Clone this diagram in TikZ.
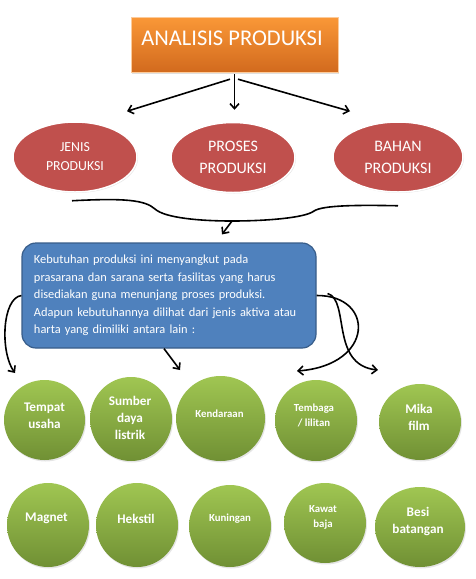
\documentclass[tikz,border=0pt]{standalone}
\usepackage{fontspec}
\setmainfont{Carlito}
\usetikzlibrary{arrows.meta,shapes.geometric,shadows}

\definecolor{orangeTop}{RGB}{250,152,55}
\definecolor{orangeBot}{RGB}{210,106,30}
\definecolor{redFill}{RGB}{192,80,77}
\definecolor{blueFill}{RGB}{79,129,189}
\definecolor{blueLine}{RGB}{56,93,138}
\definecolor{greenTop}{RGB}{160,198,82}
\definecolor{greenBot}{RGB}{112,144,52}

\begin{document}
\begin{tikzpicture}[x=1pt, y=-1pt,
    arr/.style={-{Straight Barb[length=5pt,width=9pt]}, line width=1.6pt},
    titlebox/.style={rectangle, top color=orangeTop, bottom color=orangeBot, draw=orangeTop!50!white,
        minimum width=207pt, minimum height=55pt,
        drop shadow={opacity=0.25, shadow xshift=1pt, shadow yshift=-1.5pt}},
    redoval/.style={ellipse, fill=redFill, draw=white, line width=1.5pt, text=white, align=center,
        minimum width=124pt, minimum height=70pt, font=\fontsize{16}{22}\selectfont,
        drop shadow={opacity=0.2, shadow xshift=1pt, shadow yshift=-1pt}},
    infobox/.style={rectangle, rounded corners=14pt, fill=blueFill, draw=blueLine, line width=1.2pt,
        text=white, align=left, text width=270pt, inner xsep=12pt,
        minimum width=294pt, minimum height=105pt, font=\fontsize{12.4}{17.5}\selectfont},
    ball/.style={ellipse, top color=greenTop, bottom color=greenBot, inner sep=0pt,
        minimum width=82pt, minimum height=82pt,
        drop shadow={opacity=0.2, shadow xshift=1pt, shadow yshift=-1.5pt}},
    balltext/.style={text=white, align=center, font=\bfseries\fontsize{13.2}{17}\selectfont},
    smalltext/.style={text=white, align=center, font=\bfseries\fontsize{10.8}{15}\selectfont}
]
    \useasboundingbox (0,0) rectangle (475,579);
    \fill[white] (0,0) rectangle (475,579);

    % title and the three ellipses
    \node[titlebox] (title) at (234.5,44.5) {};
    \node[text=white, font=\fontsize{22.5}{26}\selectfont] (titleText) at ([xshift=-2.5pt,yshift=6pt]title) {ANALISIS PRODUKSI};

    \node[redoval, font=\fontsize{13.8}{19}\selectfont] (jenis) at (75,157) {JENIS\\PRODUKSI};
    \node[redoval] (proses) at (233,157.5) {PROSES\\PRODUKSI};
    \node[redoval, minimum width=130pt] (bahan) at (398,157) {BAHAN\\PRODUKSI};

    \draw[arr] ([xshift=-4.5pt,yshift=-7pt]title.south) -- ([xshift=52pt,yshift=10pt]jenis.north);
    \draw[arr] ([yshift=-2pt]title.south) -- ([xshift=1.5pt,yshift=12pt]proses.north);
    \draw[arr] ([xshift=3.5pt,yshift=-7pt]title.south) -- ([xshift=-48pt,yshift=10pt]bahan.north);

    % brace
    \coordinate (braceL) at ([xshift=-3pt,yshift=-8pt]jenis.south);
    \coordinate (braceM) at (232,221);
    \coordinate (braceR) at ([yshift=-13pt]bahan.south);
    \draw[line width=1.6pt] (braceL) .. controls (125,198) and (145,200) .. (155,209)
        .. controls (165,218) and (200,221) .. (braceM)
        .. controls (265,221) and (305,218) .. (314,211)
        .. controls (323,205) and (360,205) .. (braceR);

    \node[infobox] (info) at (169,295.5) {Kebutuhan produksi ini menyangkut pada\\
        prasarana dan sarana serta fasilitas yang harus\\
        disediakan guna menunjang proses produksi.\\
        Adapun kebutuhannya dilihat dari jenis aktiva atau\\
        harta yang dimiliki antara lain :};

    \draw[arr] (braceM) -- ([xshift=53pt,yshift=8pt]info.north);

    % arrows to the items
    \coordinate (endTempat) at (15,373);
    \coordinate (endKendaraan) at (180,370);
    \coordinate (endTembaga) at (297,371);
    \coordinate (endMika) at (378,370);

    \draw[arr] (info.west) .. controls (2,298) and (0,352) .. (endTempat);
    \draw[arr] ([xshift=-5pt]info.south) -- (endKendaraan);
    \draw[arr] (info.east) .. controls (375,295) and (375,365) .. (endTembaga);
    \draw[arr] ([xshift=11pt,yshift=2pt]info.east) .. controls (350,300) and (330,365) .. (endMika);

    % first row
    \node[ball, minimum width=81pt, minimum height=80pt] (tempat) at (44.5,420) {};
    \node[balltext] (tempatText) at ([yshift=4.7pt]tempat) {Tempat\\usaha};
    \node[ball, minimum height=84pt] (sumber) at (131,419) {};
    \node[balltext] (sumberText) at ([xshift=-1pt,yshift=1pt]sumber) {Sumber\\daya\\listrik};
    \node[ball, minimum width=89pt, minimum height=85pt] (kendaraan) at (220.5,418.5) {};
    \node[smalltext] (kendaraanText) at ([xshift=-1pt,yshift=5pt]kendaraan) {Kendaraan};
    \node[ball, minimum height=81pt] (tembaga) at (316,420.5) {};
    \node[smalltext] (tembagaText) at ([xshift=-2pt,yshift=5.3pt]tembaga) {Tembaga\\/ lilitan};
    \node[ball, minimum height=76pt] (mika) at (420,422) {};
    \node[balltext] (mikaText) at ([xshift=-1pt,yshift=4.7pt]mika) {Mika\\film};

    % second row
    \node[ball, minimum height=84pt] (magnet) at (48,525) {};
    \node[balltext] (magnetText) at ([xshift=-1.5pt,yshift=6.3pt]magnet) {Magnet};
    \node[ball, minimum height=84pt] (hekstil) at (137,525) {};
    \node[balltext] (hekstilText) at ([xshift=-1pt,yshift=6.3pt]hekstil) {Hekstil};
    \node[ball] (kuningan) at (230,526) {};
    \node[smalltext] (kuninganText) at ([yshift=7.3pt]kuningan) {Kuningan};
    \node[ball, minimum height=80pt] (kawat) at (325,523) {};
    \node[smalltext] (kawatText) at ([xshift=-2pt,yshift=5.5pt]kawat) {Kawat\\baja};
    \node[ball, minimum width=90pt, minimum height=80pt] (besi) at (420,527) {};
    \node[balltext] (besiText) at ([xshift=-2pt,yshift=5.3pt]besi) {Besi\\batangan};
\end{tikzpicture}
\end{document}
